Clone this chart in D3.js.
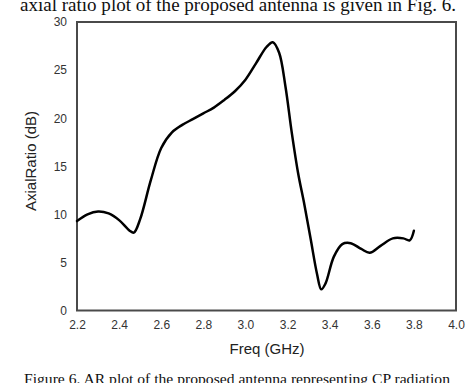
<!DOCTYPE html>
<html>
<head>
<meta charset="utf-8">
<script src="https://cdn.jsdelivr.net/npm/d3@7/dist/d3.min.js"></script>
<style>
html,body{margin:0;padding:0;background:#fff;}
svg{display:block;}
</style>
</head>
<body>
<svg id="c" width="474" height="383"></svg>
<script>
const freq = [2.20,2.25,2.30,2.35,2.40,2.45,2.47,2.50,2.55,2.60,2.65,2.70,2.75,2.80,2.85,2.90,2.95,3.00,3.05,3.10,3.13,3.16,3.19,3.22,3.25,3.28,3.31,3.34,3.36,3.38,3.42,3.46,3.50,3.55,3.59,3.64,3.70,3.75,3.78,3.80];
const axialRatio = [9.3,10.0,10.3,10.1,9.4,8.3,8.1,9.5,13.5,16.9,18.5,19.3,19.9,20.5,21.1,21.9,22.8,24.0,25.7,27.4,27.9,26.8,23.3,18.5,14.3,11.0,7.4,3.8,2.2,2.8,5.6,6.9,7.0,6.4,6.0,6.7,7.5,7.5,7.3,8.3];
const xTicks = [2.2,2.4,2.6,2.8,3.0,3.2,3.4,3.6,3.8,4.0];
const yTicks = [0,5,10,15,20,25,30];
const xLabel = "Freq (GHz)";
const yLabel = "AxialRatio (dB)";
const topText = "axial ratio plot of the proposed antenna is given in Fig. 6.";
const caption = "Figure 6. AR plot of the proposed antenna representing CP radiation";

const svg = d3.select("#c");
const L = 77, R = 456, T = 22, B = 310.5;
const x = d3.scaleLinear().domain([2.2, 4.0]).range([L, R]);
const y = d3.scaleLinear().domain([0, 30]).range([B, T]);

// surrounding document text
svg.append("text").attr("x", 20).attr("y", 11)
  .attr("font-family", "Liberation Serif, Times New Roman, serif")
  .attr("font-size", 18).attr("fill", "#111")
  .attr("textLength", 436).attr("lengthAdjust", "spacingAndGlyphs")
  .text(topText);
svg.append("text").attr("x", 24).attr("y", 384)
  .attr("font-family", "Liberation Serif, Times New Roman, serif")
  .attr("font-size", 14).attr("fill", "#111")
  .attr("textLength", 426).attr("lengthAdjust", "spacingAndGlyphs")
  .text(caption);

// axes tick labels
const xAxis = d3.axisBottom(x).tickValues(xTicks).tickFormat(d3.format(".1f")).tickSize(0).tickPadding(10);
const gx = svg.append("g").attr("transform", `translate(0,${B})`).call(xAxis);
gx.select(".domain").remove();
gx.selectAll("text").attr("font-family", "Liberation Sans, Arial, sans-serif").attr("font-size", 12).attr("fill", "#333");

const yAxis = d3.axisLeft(y).tickValues(yTicks).tickFormat(d3.format("d")).tickSize(0).tickPadding(10);
const gy = svg.append("g").attr("transform", `translate(${L},0)`).call(yAxis);
gy.select(".domain").remove();
gy.selectAll("text").attr("font-family", "Liberation Sans, Arial, sans-serif").attr("font-size", 12).attr("fill", "#333");

// frame
svg.append("rect").attr("x", L).attr("y", T).attr("width", R - L).attr("height", B - T)
  .attr("fill", "none").attr("stroke", "#4a4a4a").attr("stroke-width", 2);

// axis titles
svg.append("text").attr("x", 267).attr("y", 354)
  .attr("text-anchor", "middle")
  .attr("font-family", "Liberation Sans, Arial, sans-serif").attr("font-size", 15).attr("fill", "#222")
  .text(xLabel);
svg.append("text").attr("transform", `translate(36,161) rotate(-90)`)
  .attr("text-anchor", "middle")
  .attr("font-family", "Liberation Sans, Arial, sans-serif").attr("font-size", 15).attr("fill", "#222")
  .text(yLabel);

// curve
const data = freq.map((f, i) => [f, axialRatio[i]]);
svg.append("path").datum(data)
  .attr("fill", "none").attr("stroke", "#000").attr("stroke-width", 2.5)
  .attr("stroke-linejoin", "round").attr("stroke-linecap", "round")
  .attr("d", d3.line().x(d => x(d[0])).y(d => y(d[1])).curve(d3.curveCatmullRom.alpha(0.5)));
</script>
</body>
</html>
